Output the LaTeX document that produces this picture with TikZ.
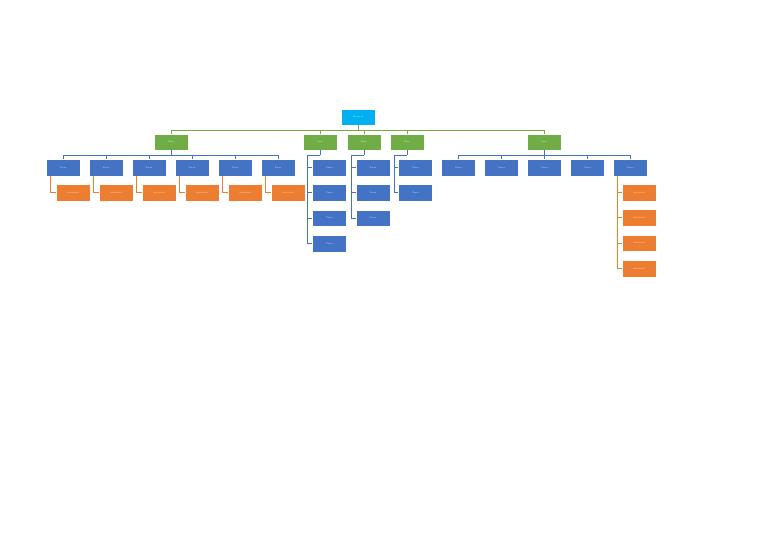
\documentclass[tikz,border=0pt]{standalone}
\begin{document}
\begin{tikzpicture}[x=1pt,y=-1pt,
  bx/.style={minimum width=34pt,minimum height=16.5pt,inner sep=1pt,text=white,font=\fontsize{2}{2.4}\selectfont,align=center,text width=30pt,draw=white,line width=0.3pt},
  cy/.style={bx,fill={rgb,255:red,0;green,176;blue,240}},
  gr/.style={bx,fill={rgb,255:red,112;green,173;blue,71}},
  bl/.style={bx,fill={rgb,255:red,68;green,114;blue,196}},
  orx/.style={bx,fill={rgb,255:red,237;green,125;blue,49}},
  gl/.style={draw={rgb,255:red,112;green,173;blue,71},line width=0.8pt},
  bll/.style={draw={rgb,255:red,68;green,114;blue,196},line width=0.8pt},
  ol/.style={draw={rgb,255:red,237;green,125;blue,49},line width=0.8pt}]
\useasboundingbox (0,0) rectangle (768,542);
\node[cy] (r) at (358,117) {Proyecto\\};
\foreach \n/\x in {g1/171,g2/320,g3/364,g4/407,g5/544}
  \node[gr] (\n) at (\x,142) {Fase\\};
\draw[gl] (r.south) -- (358,130) (171,130) -- (544,130);
\foreach \n in {g1,g2,g3,g4,g5} \draw[gl] (\n.north) -- (\n.north|-0,130);
% group 1
\draw[bll] (g1.south) -- (171,155) (63,155) -- (278,155);
\foreach \i/\x in {1/63,2/106,3/149,4/192,5/235,6/278}{
  \node[bl] (a\i) at (\x,167.5) {Tarea\\};
  \draw[bll] (a\i.north) -- (\x,155);
  \node[orx] (o\i) at (\x+10,192.5) {Actividad\\};
  \draw[ol] (\x-13,176) -- (\x-13,192.5) -- (o\i.west);
}
% group 2
\foreach \g/\x/\lx/\k in {g2/329.5/307/4,g3/373/351/3,g4/415.5/394/2}{
  \draw[bll] (\g.south) -- (\g.south|-0,155) (\lx,155) -- (\g.south|-0,155);
  \foreach \j in {1,...,\k}{
    \node[bl] (\g b\j) at (\x,167.5+25.3*\j-25.3) {Tarea\\};
    \draw[bll] (\lx,155) |- (\g b\j.west);
  }
}
% group 5
\draw[bll] (g5.south) -- (544,155) (458,155) -- (630,155);
\foreach \i/\x in {1/458.5,2/501.5,3/544.5,4/587.5,5/630.5}{
  \node[bl] (c\i) at (\x,167.5) {Tarea\\};
  \draw[bll] (c\i.north) -- (\x,155);
}
\foreach \j in {1,...,4}{
  \node[orx] (d\j) at (639,192.5+25.3*\j-25.3) {Actividad};
  \draw[ol] (617,176) |- (d\j.west);
}
\end{tikzpicture}
\end{document}
